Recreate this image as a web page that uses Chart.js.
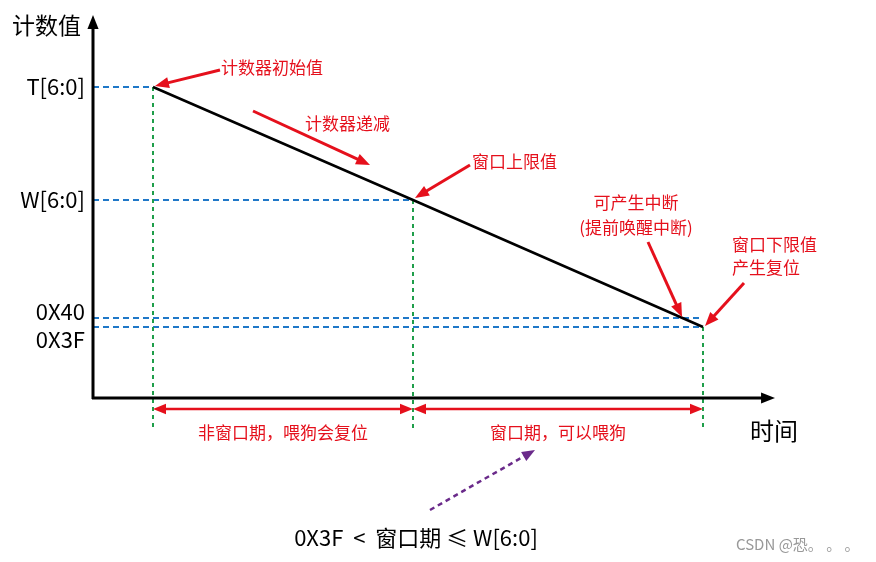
<!DOCTYPE html>
<html><head><meta charset="utf-8">
<script src="https://cdn.jsdelivr.net/npm/chart.js@4"></script>
<style>html,body{margin:0;padding:0;background:#fff}#w{width:876px;height:562px}</style>
</head><body><div id="w"><canvas id="c"></canvas></div>
<script>
// time (x) and counter (y) values in arbitrary units
const timePoints = [60, 320, 610];
const counterValues = [311, 198, 71];
const levelNames = ['T[6:0]', 'W[6:0]', '0X40', '0X3F'];
const levelValues = [311, 198, 80, 71];
const interruptPoint = [589, 80];

const RED = '#e5101c', BLUE = '#1f78c8', GREEN = '#1f9e4a', F = '"Noto Sans CJK SC", sans-serif';

function arrow(ctx, x1, y1, x2, y2, color, w, head, dash) {
  ctx.save(); ctx.strokeStyle = color; ctx.fillStyle = color; ctx.lineWidth = w;
  const a = Math.atan2(y2 - y1, x2 - x1);
  const ex = x2 - head * 0.8 * Math.cos(a), ey = y2 - head * 0.8 * Math.sin(a);
  if (dash) ctx.setLineDash(dash);
  ctx.beginPath(); ctx.moveTo(x1, y1); ctx.lineTo(ex, ey); ctx.stroke();
  ctx.setLineDash([]);
  ctx.beginPath(); ctx.moveTo(x2, y2);
  ctx.lineTo(x2 - head * Math.cos(a - 0.38), y2 - head * Math.sin(a - 0.38));
  ctx.lineTo(x2 - head * Math.cos(a + 0.38), y2 - head * Math.sin(a + 0.38));
  ctx.closePath(); ctx.fill(); ctx.restore();
}
function txt(ctx, s, x, y, size, color, align) {
  ctx.save(); ctx.font = size + 'px ' + F; ctx.fillStyle = color; ctx.textAlign = align || 'left';
  ctx.textBaseline = 'middle'; ctx.fillText(s, x, y); ctx.restore();
}

const deco = {
  id: 'deco',
  beforeDatasetsDraw(chart) {
    const ctx = chart.ctx, xs = chart.scales.x, ys = chart.scales.y, a = chart.chartArea;
    const px = timePoints.map(v => xs.getPixelForValue(v));
    const py = counterValues.map(v => ys.getPixelForValue(v));
    ctx.save(); ctx.strokeStyle = BLUE; ctx.lineWidth = 2; ctx.setLineDash([6, 4]);
    const ends = [px[0], px[1], px[2], px[2]];
    levelValues.forEach((v, i) => { const y = ys.getPixelForValue(v);
      ctx.beginPath(); ctx.moveTo(a.left, y); ctx.lineTo(ends[i], y); ctx.stroke(); });
    ctx.strokeStyle = GREEN; ctx.setLineDash([4, 4]);
    px.forEach((x, i) => { ctx.beginPath(); ctx.moveTo(x, py[i]); ctx.lineTo(x, a.bottom + 33); ctx.stroke(); });
    ctx.restore();
  },
  afterDatasetsDraw(chart) {
    const ctx = chart.ctx, xs = chart.scales.x, ys = chart.scales.y, a = chart.chartArea;
    const px = timePoints.map(v => xs.getPixelForValue(v));
    const py = counterValues.map(v => ys.getPixelForValue(v));
    arrow(ctx, a.left, a.bottom + 1, a.left, a.top, '#000', 3, 15);
    arrow(ctx, a.left - 1, a.bottom, a.right, a.bottom, '#000', 3, 15);
    txt(ctx, '计数值', 12, 25, 23, '#000');
    txt(ctx, '时间', 750, 431, 24, '#000');
    const offs = [0, 0, -6, 13];
    levelNames.forEach((n, i) => txt(ctx, n, 85, ys.getPixelForValue(levelValues[i]) + offs[i], 22, '#000', 'right'));
    txt(ctx, '计数器初始值', 221, 68, 17, RED);
    arrow(ctx, 220, 70, px[0] + 2, py[0] - 1, RED, 3, 15);
    txt(ctx, '计数器递减', 305, 124, 17, RED);
    arrow(ctx, 253, 111, 370, 165, RED, 3, 15);
    txt(ctx, '窗口上限值', 472, 162, 17, RED);
    arrow(ctx, 470, 165, px[1] + 2, py[1] - 2, RED, 3, 15);
    txt(ctx, '可产生中断', 636, 203, 17, RED, 'center');
    txt(ctx, '(提前唤醒中断)', 636, 228, 17, RED, 'center');
    arrow(ctx, 648, 242, xs.getPixelForValue(interruptPoint[0]), ys.getPixelForValue(interruptPoint[1]) - 1, RED, 3, 15);
    txt(ctx, '窗口下限值', 732, 245, 17, RED);
    txt(ctx, '产生复位', 732, 268, 17, RED);
    arrow(ctx, 744, 283, px[2] + 2, py[2] - 1, RED, 3, 15);
    const yb = a.bottom + 11;
    arrow(ctx, (px[0] + px[1]) / 2, yb, px[0], yb, RED, 2.5, 14);
    arrow(ctx, (px[0] + px[1]) / 2, yb, px[1], yb, RED, 2.5, 14);
    arrow(ctx, (px[1] + px[2]) / 2, yb, px[1], yb, RED, 2.5, 14);
    arrow(ctx, (px[1] + px[2]) / 2, yb, px[2], yb, RED, 2.5, 14);
    txt(ctx, '非窗口期，喂狗会复位', (px[0] + px[1]) / 2, 433, 17, RED, 'center');
    txt(ctx, '窗口期，可以喂狗', (px[1] + px[2]) / 2, 433, 17, RED, 'center');
    arrow(ctx, 430, 510, 535, 450, '#6a2a8a', 2.5, 14, [5, 4]);
    txt(ctx, '0X3F  <  窗口期 ≤ W[6:0]', 416, 538, 22, '#000', 'center');
    txt(ctx, 'CSDN @恐。 。 。', 736, 544, 15, '#999');
  }
};

new Chart(document.getElementById('c'), {
  type: 'line',
  data: { datasets: [{ data: timePoints.map((t, i) => ({ x: t, y: counterValues[i] })),
    borderColor: '#000', borderWidth: 2.5, pointRadius: 0, tension: 0 }] },
  options: {
    responsive: true, maintainAspectRatio: false, animation: false,
    layout: { padding: { left: 93, right: 101, top: 15, bottom: 164 } },
    plugins: { legend: { display: false }, tooltip: { enabled: false } },
    scales: { x: { type: 'linear', min: 0, max: 682, display: false },
              y: { type: 'linear', min: 0, max: 383, display: false } }
  },
  plugins: [deco]
});
</script></body></html>
